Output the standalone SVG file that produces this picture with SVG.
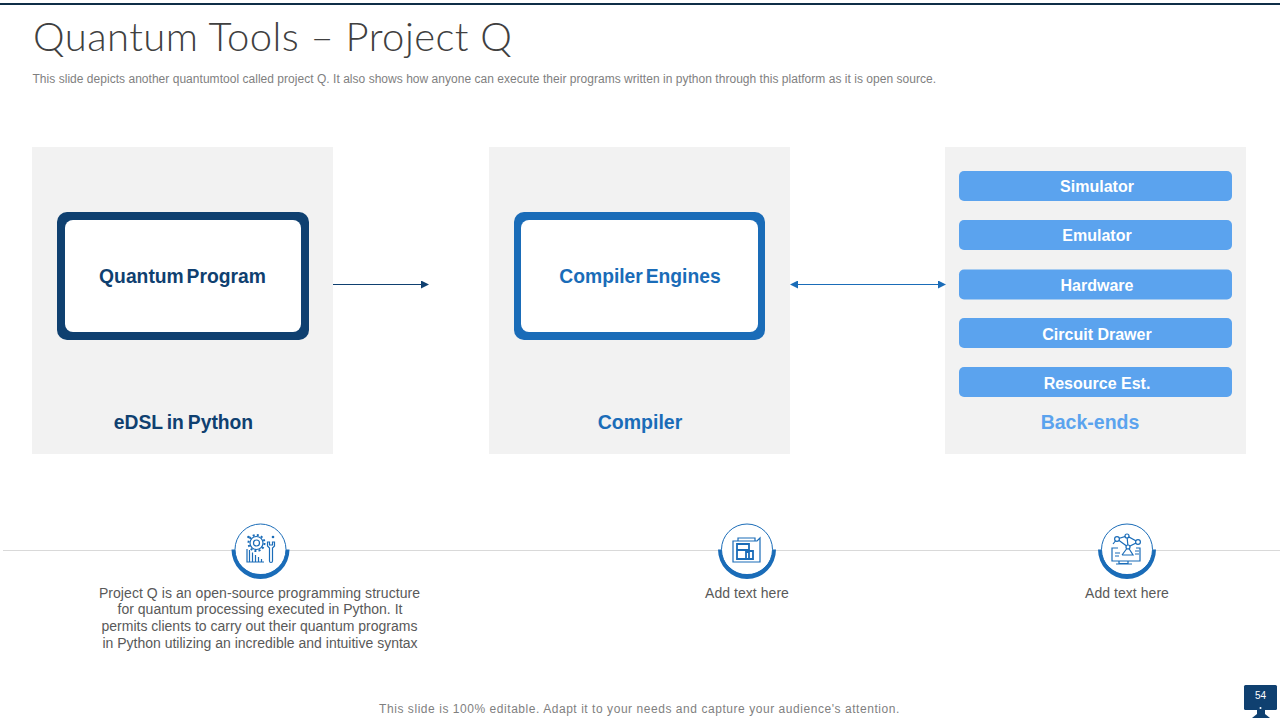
<svg xmlns="http://www.w3.org/2000/svg" width="1280" height="720" viewBox="0 0 1280 720">
<style>
text{font-family:"Liberation Sans",Arial,sans-serif}
.panel{fill:#f2f2f2}
.b{font-weight:700;text-anchor:middle}
.w2{word-spacing:-2.500px}
.pill{fill:#5ba3ee}
.pt{font-size:16px;font-weight:700;fill:#fff;text-anchor:middle}
.cap{font-size:14px;fill:#595959;text-anchor:middle}
.ic{fill:none;stroke:#1a6cb8;stroke-width:1.200}
.th{fill:none;stroke:#1a6cb8;stroke-width:1.800}
.ring{fill:#fff;stroke:#1a6cb8;stroke-width:1}
.arc{fill:#1a6cb8}
.dot{fill:#fff;stroke:#1a6cb8;stroke-width:1.200}
</style>
<defs>
<marker id="ad" markerUnits="userSpaceOnUse" markerWidth="8" markerHeight="8" refX="7" refY="4" orient="auto"><path d="M0 0L8 4L0 8Z" fill="#0f4070"/></marker>
<marker id="ae" markerUnits="userSpaceOnUse" markerWidth="8" markerHeight="8" refX="7" refY="4" orient="auto-start-reverse"><path d="M0 0L8 4L0 8Z" fill="#1a6cb8"/></marker>
</defs>
<rect width="1280" height="720" fill="#fff"/>
<rect x="0" y="3" width="1280" height="2" fill="#0f2e47"/>
<text x="33" y="51" font-size="40" fill="#404040" letter-spacing=".44" style="font-family:'Lato','Liberation Sans',sans-serif;font-weight:300">Quantum Tools – Project Q</text>
<text x="32.500" y="83" font-size="12" fill="#7f7f7f" letter-spacing=".03">This slide depicts another quantumtool called project Q. It also shows how anyone can execute their programs written in python through this platform as it is open source.</text>

<g id="panel-edsl"><rect class="panel" x="32" y="147" width="301" height="307"/>
<text class="b" x="183.500" y="429" font-size="19.300" fill="#0f4070" word-spacing="-1.400">eDSL in Python</text></g>
<g id="node-quantum-program"><rect x="57" y="212" width="252" height="128" rx="10" fill="#0f4070"/><rect x="65" y="220" width="236" height="112" rx="8" fill="#fff"/>
<text class="b w2" x="182.500" y="283" font-size="19.300" fill="#0f4070">Quantum Program</text></g>

<g id="panel-compiler"><rect class="panel" x="489" y="147" width="301" height="307"/>
<text class="b" x="640" y="429" font-size="19.500" fill="#1a6cb8">Compiler</text></g>
<g id="node-compiler-engines"><rect x="514" y="212" width="251" height="128" rx="10" fill="#1a6cb8"/><rect x="521" y="220" width="237" height="112" rx="8" fill="#fff"/>
<text class="b w2" x="640" y="283" font-size="19.300" fill="#1a6cb8">Compiler Engines</text></g>

<g id="panel-backends"><rect class="panel" x="945" y="147" width="301" height="307"/>
<text class="b" x="1090" y="429" font-size="19.500" fill="#5ba3ee">Back-ends</text></g>
<g id="node-simulator"><rect class="pill" x="959" y="171" width="273" height="30" rx="5"/><text class="pt" x="1097" y="191.500">Simulator</text></g>
<g id="node-emulator"><rect class="pill" x="959" y="220" width="273" height="30" rx="5"/><text class="pt" x="1097" y="240.500">Emulator</text></g>
<g id="node-hardware"><rect class="pill" x="959" y="269.500" width="273" height="30" rx="5"/><text class="pt" x="1097" y="290.500">Hardware</text></g>
<g id="node-circuit-drawer"><rect class="pill" x="959" y="318" width="273" height="30" rx="5"/><text class="pt" x="1097" y="339.500">Circuit Drawer</text></g>
<g id="node-resource-est"><rect class="pill" x="959" y="367" width="273" height="30" rx="5"/><text class="pt" x="1097" y="388.500">Resource Est.</text></g>

<g id="connectors">
<line x1="333" y1="284.500" x2="428" y2="284.500" stroke="#0f4070" stroke-width="1.200" marker-end="url(#ad)"/>
<line x1="791" y1="284.500" x2="945" y2="284.500" stroke="#1a6cb8" stroke-width="1.200" marker-start="url(#ae)" marker-end="url(#ae)"/>
</g>

<line x1="3" y1="550.500" x2="1280" y2="550.500" stroke="#d9d9d9" stroke-width="1"/>

<g id="info-tools">
<circle class="ring" cx="260.500" cy="549.500" r="25.500"/>
<path class="arc" d="M231.500 549.500A29 29.500 0 0 0 289.500 549.500H286A25.500 24.500 0 0 1 235 549.500Z"/>
<circle class="ic" cx="256.500" cy="543" r="6.500"/><circle class="ic" cx="256.500" cy="543" r="3"/><circle cx="256.500" cy="543" r="8" fill="none" stroke="#1a6cb8" stroke-width="2" stroke-dasharray="2 2.200"/>
<path class="ic" d="M247 549V562H264M249.500 562V550M252.500 562V552.500M255.500 562V555M258.500 562V557M261.500 562V559"/>
<path class="ic" d="M267.500 542V546L269.500 548V561A1.500 1.500 0 0 0 272.500 561V548L274.500 546V542L272.500 542V545H269.500V542Z"/>
<circle cx="248.500" cy="537" r="1.300" fill="#1a6cb8"/><circle cx="273" cy="537" r="1.300" fill="#1a6cb8"/>
<text class="cap" x="259.500" y="598" letter-spacing=".06">Project Q is an open-source programming structure</text>
<text class="cap" x="260" y="614">for quantum processing executed in Python. It</text>
<text class="cap" x="259.500" y="631">permits clients to carry out their quantum programs</text>
<text class="cap" x="260" y="648">in Python utilizing an incredible and intuitive syntax</text>
</g>

<g id="info-blueprint">
<circle class="ring" cx="747" cy="549.500" r="25.500"/>
<path class="arc" d="M718 549.500A29 29.500 0 0 0 776 549.500H772.500A25.500 24.500 0 0 1 721.500 549.500Z"/>
<path class="ic" d="M733 541H757L760 538V562H733Z"/>
<path class="ic" d="M738 541V538H755V541"/>
<path class="th" d="M737 544H749V550H737ZM737 550V559H746V552H749M749 550V559H753V551H749M746 559H749"/>
<text class="cap" x="747" y="598" letter-spacing=".05">Add text here</text>
</g>

<g id="info-network">
<circle class="ring" cx="1127" cy="549.500" r="25.500"/>
<path class="arc" d="M1098 549.500A29 29.500 0 0 0 1156 549.500H1152.500A25.500 24.500 0 0 1 1101.500 549.500Z"/>
<path class="ic" d="M1118 548H1112V561H1140V548H1136M1119 561V563.500H1128V561M1116 564H1132"/>
<path class="ic" d="M1117 539L1127 536L1138 542L1128 547L1117 539ZM1127 536L1128 547M1117 539L1113 544M1128 547L1122 555M1128 547L1133 555L1122 555M1135 551H1139M1135 554H1139M1115 553H1120M1115 556H1119"/>
<circle class="dot" cx="1117" cy="539" r="2.400"/><circle class="dot" cx="1127" cy="536" r="2"/><circle class="dot" cx="1138" cy="542" r="2.400"/><circle class="dot" cx="1128" cy="547" r="2"/>
<text class="cap" x="1127" y="598" letter-spacing=".05">Add text here</text>
</g>

<text x="639.500" y="713" font-size="12" fill="#7f7f7f" text-anchor="middle" letter-spacing=".55">This slide is 100% editable. Adapt it to your needs and capture your audience's attention.</text>

<g id="page-number">
<rect x="1244" y="685" width="33" height="25" rx="1.500" fill="#0f4070"/>
<path d="M1257 710H1265V714L1270 718H1252L1257 714Z" fill="#0f4070"/>
<circle cx="1260.500" cy="708" r="1" fill="#fff"/>
<text x="1260.500" y="699" font-size="10" fill="#fff" text-anchor="middle">54</text>
</g>
</svg>
